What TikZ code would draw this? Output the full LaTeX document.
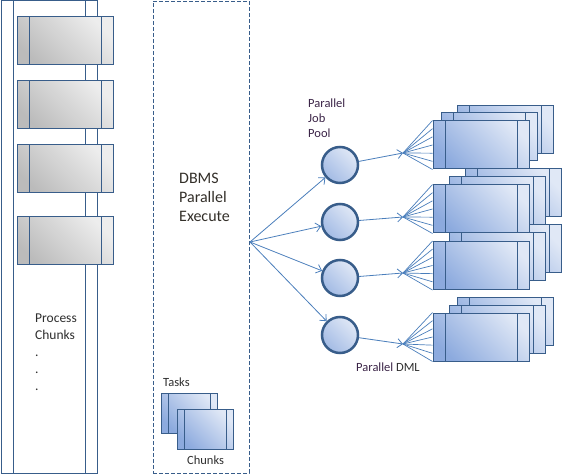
\documentclass[tikz,border=0pt]{standalone}
\usepackage{fontspec}
\setmainfont{Carlito}
\usepackage{tikz}
\usetikzlibrary{shapes}
\usetikzlibrary{arrows}
\usetikzlibrary{arrows.meta}
\usetikzlibrary{positioning}
\usetikzlibrary{calc}
\definecolor{bord}{HTML}{385D8A}
\definecolor{fleche}{HTML}{4A7EBB}
\definecolor{bleuclair}{HTML}{E0E8F6}
\definecolor{bleufonce}{HTML}{8CAADE}
\definecolor{grisclair}{HTML}{EDEDED}
\definecolor{grisfonce}{HTML}{BBBBBB}
\definecolor{texte}{HTML}{3B2447}
\definecolor{noir}{HTML}{2E2E2E}
\tikzset{
cadre/.style={
        draw=bord,
        line width=1pt,
        inner sep=0pt,
        minimum width=96pt,
        minimum height=48pt,
        path picture={\draw[bord,line width=1pt]
          ([xshift=#1]path picture bounding box.north west) -- ([xshift=#1]path picture bounding box.south west)
          ([xshift=-#1]path picture bounding box.north east) -- ([xshift=-#1]path picture bounding box.south east);}
},
cadre/.default=12pt
}
\tikzstyle{bloc}=[cadre,top color=bleuclair,bottom color=bleufonce,shading angle=-45]
\tikzstyle{blocgris}=[cadre,top color=grisclair,bottom color=grisfonce,shading angle=-45]
\tikzstyle{tache}=[cadre=7pt,minimum width=56pt,minimum height=40pt,
top color=bleuclair,bottom color=bleufonce,shading angle=-45]
\tikzstyle{rond}=[circle,draw=bord,line width=2.5pt,minimum size=36pt,inner sep=0pt,
top color=bleuclair,bottom color=bleufonce!80,shading angle=-45]
\tikzstyle{etiquette}=[inner sep=0pt,align=left,text=noir,font=\fontsize{12.5}{15}\selectfont]
\tikzstyle{suite}=[->,>={Straight Barb[length=5pt,width=9pt]},draw=fleche,line width=0.8pt]
\tikzstyle{eventail}=[draw=fleche,line width=0.7pt]

\begin{document}
\begin{tikzpicture}[x=1pt,y=-1pt]
\useasboundingbox (0,0) rectangle (563,476);
% colonne de gauche
\node[cadre,minimum height=472pt,fill=white] (colonne) at (49,237) {};
\node[blocgris] (g1) at (65,41) {};
\node[blocgris] (g2) at (65,105) {};
\node[blocgris] (g3) at (65,169) {};
\node[blocgris] (g4) at (65,241) {};
\node[etiquette,font=\fontsize{13.5}{17}\selectfont,anchor=west] (process) at (35,352) {Process\\Chunks\\.\\.\\.};
% bloc central
\node[draw=bord,dash pattern=on 4pt off 2pt,line width=0.8pt,minimum width=96pt,minimum height=472pt] (dbms) at (201,237) {};
\node[etiquette,font=\fontsize{16}{19}\selectfont,text=black!85!olive,anchor=west] (execute) at (179,197) {DBMS\\Parallel\\Execute};
\node[etiquette,anchor=west] (tasks) at (163,382) {Tasks};
\node[tache] (t1) at (189.5,413) {};
\node[tache] (t2) at (205,429) {};
\node[etiquette,anchor=west] (chunks) at (187,460) {Chunks};
% job pool
\coordinate (depart) at (250,242);
\foreach \i/\y in {1/165,2/222,3/278,4/335}
  \node[rond] (c\i) at (340,\y) {};
\node[etiquette,text=texte,anchor=west] (pool) at (308,118) {Parallel\\Job\\Pool};
\node[etiquette,anchor=west] (dml) at (356,367) {\textcolor{texte}{Parallel} DML};
% piles
\node[bloc] (a4) at (505,321) {};
\node[bloc] (m4) at (497,329) {};
\node[bloc] (v4) at (481,337) {};
\node[bloc] (a3) at (513,249) {};
\node[bloc] (m3) at (497,257) {};
\node[bloc] (v3) at (481,265.5) {};
\node[bloc] (a2) at (513,193) {};
\node[bloc] (m2) at (497,201) {};
\node[bloc] (v2) at (481,209) {};
\node[bloc] (a1) at (505,129.5) {};
\node[bloc] (m1) at (489.5,137) {};
\node[bloc] (v1) at (481,145) {};
\coordinate (f1) at (403,153);
\coordinate (f2) at (403,217);
\coordinate (f3) at (403,273);
\coordinate (f4) at (403,344);
%fleches
\foreach \i in {1,...,4} {
  \draw[suite] (depart) -- (c\i);
  \draw[suite] (c\i) -- (f\i);
  \foreach \k in {0,...,6}
    \draw[eventail] (f\i) -- ($(v\i.north west)!\k/6!(v\i.south west)$);
}
\end{tikzpicture}
\end{document}
